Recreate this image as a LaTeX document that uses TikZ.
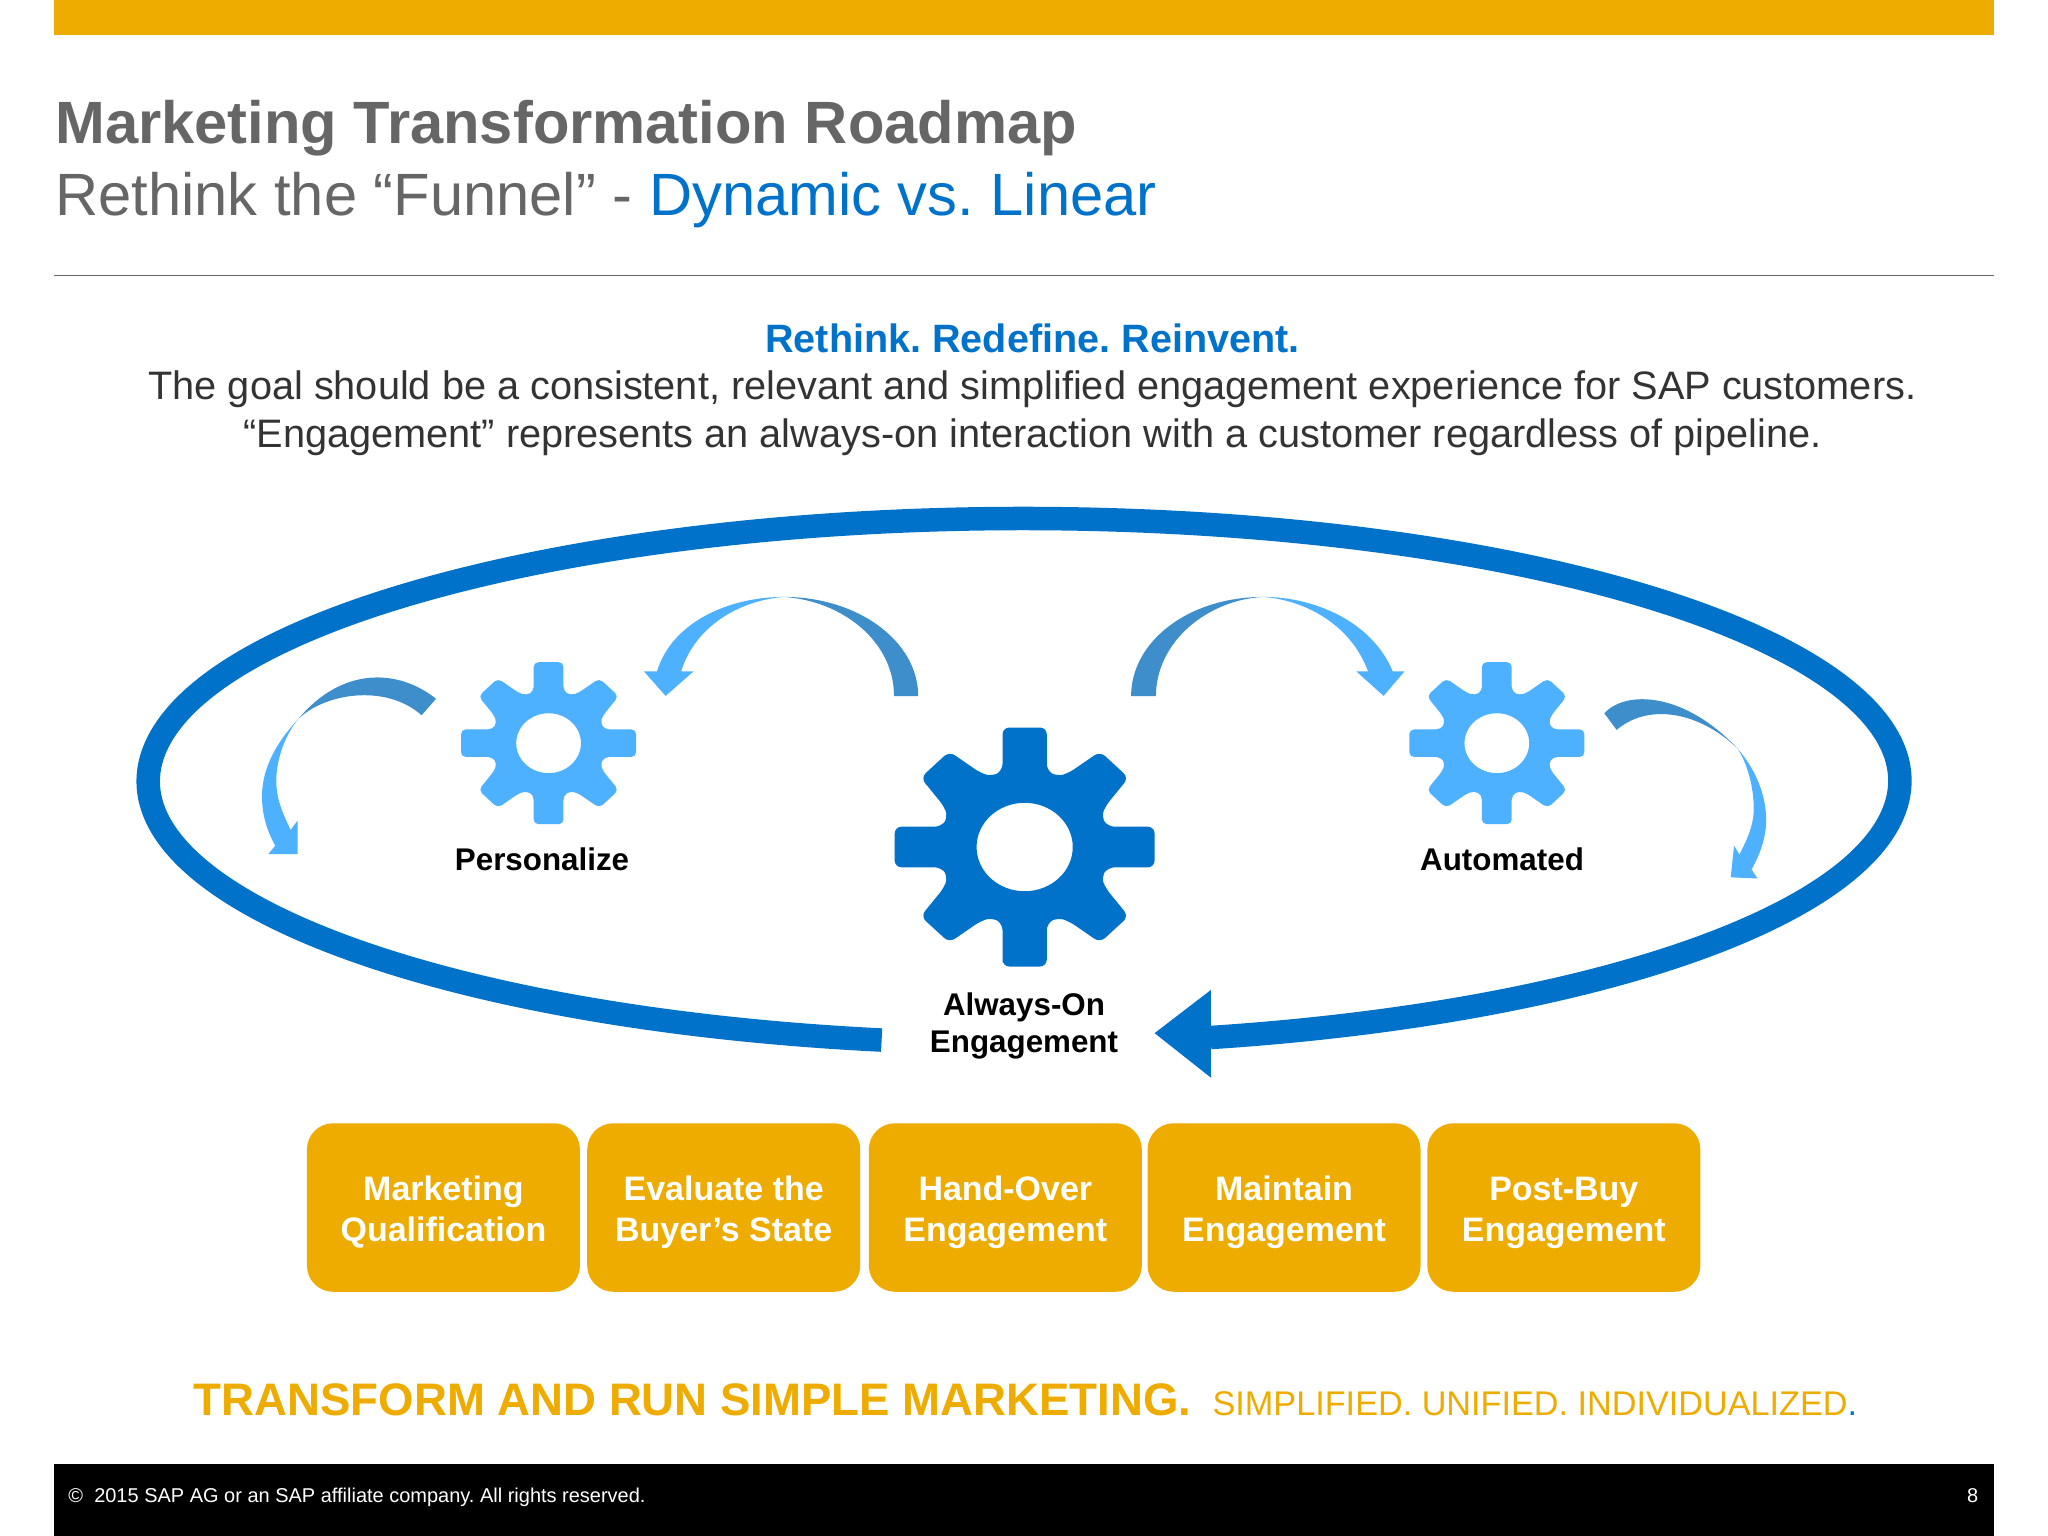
\documentclass[tikz,border=0pt]{standalone}
\usepackage{fontspec}
\setmainfont{Liberation Sans}
\usetikzlibrary{positioning}
\definecolor{sapgold}{HTML}{EEAC00}
\definecolor{sapblue}{HTML}{0072CA}
\definecolor{gearlight}{HTML}{4DB1FF}
\definecolor{taildark}{HTML}{3E8ECC}
\definecolor{titlegrey}{HTML}{666666}
\definecolor{bodygrey}{HTML}{333333}
\frenchspacing
\tikzset{
  stagebox/.style={fill=sapgold,rounded corners=10pt,minimum width=104.5pt,minimum height=64.5pt,inner sep=0pt,
    text=white,align=center,text height=29pt,text depth=3pt,font=\fontsize{13}{15.6}\selectfont\bfseries},
  gearlabel/.style={align=center,font=\fontsize{12}{14}\selectfont\bfseries},
  bodyline/.style={anchor=base,text=bodygrey,font=\fontsize{15.2}{18}\selectfont},
  ringline/.style={draw=sapblue,line width=9pt}
}
% quarter of a gear outline, unit radius
\newcommand{\gearquad}[1]{
  -- ([rotate=#1]0.17,1) -- ([rotate=#1]0.17,0.64) -- ([rotate=#1]0.25,0.59) -- ([rotate=#1]0.34,0.62)
  -- ([rotate=#1]0.58,0.80) -- ([rotate=#1]0.80,0.58) -- ([rotate=#1]0.62,0.34) -- ([rotate=#1]0.59,0.25)
  -- ([rotate=#1]0.64,0.17) -- ([rotate=#1]1,0.17)}
\newcommand{\gearshape}[5]{
\begin{scope}[shift={(#1,#2)},xscale=#3,yscale=#4]
\fill[even odd rule,#5] (-0.17,1) \gearquad{0} \gearquad{90} \gearquad{180} \gearquad{270} -- cycle
  (0,0) ellipse [x radius=0.37,y radius=0.37];
\end{scope}}
\begin{document}
\begin{tikzpicture}[x=0.5pt,y=-0.5pt]
\useasboundingbox (0,0) rectangle (1568,1176);
\fill[white] (0,0) rectangle (1568,1176);
% bars and rule
\fill[sapgold] (41,0) rectangle (1527,27);
\fill[black] (41,1121) rectangle (1527,1176);
\draw[titlegrey,line width=0.6pt] (41,211) -- (1527,211);
% header
\node (title) [anchor=base west,inner sep=0pt,text=titlegrey,font=\fontsize{22.85}{27}\selectfont\bfseries] at (42,110) {Marketing Transformation Roadmap};
\node (subtitle) [anchor=base west,inner sep=0pt,text=titlegrey,font=\fontsize{22.85}{27}\selectfont] at (42,165) {Rethink the “Funnel” - \textcolor{sapblue}{Dynamic vs. Linear}};
\node (slogan) [bodyline,text=sapblue,font=\fontsize{15.15}{18}\selectfont\bfseries] at (790.5,270) {Rethink. Redefine. Reinvent.};
\node (goal) [bodyline] at (790.5,306) {The goal should be a consistent, relevant and simplified engagement experience for SAP customers.};
\node (always) [bodyline] at (790.5,343) {“Engagement” represents an always-on interaction with a customer regardless of pipeline.};
% big ring
\coordinate (ringstart) at (675,796.3);
\draw[ringline] (ringstart) arc [start angle=99.36,end angle=437.7,x radius=670.5,y radius=201] coordinate (ringend);
\fill[sapblue] (884,791) -- (927,758) -- (927,825) -- cycle;
% gears
\gearshape{420}{569}{67}{62}{gearlight,rounded corners=1.8pt}
\gearshape{1146}{569}{67}{62}{gearlight,rounded corners=1.8pt}
\gearshape{784.5}{648.5}{99.5}{91.5}{sapblue,rounded corners=2.6pt}
\node (personalize) [gearlabel] at (415,658) {Personalize};
\node (automated) [gearlabel] at (1150,658) {Automated};
\node (engagement) [gearlabel] at (784,785.5) {Always-On\\Engagement};
% far left arrow
\fill[taildark] (333.8,535) .. controls (305,512) and (262,510) .. (228.3,550.6) .. controls (248,531) and (295,523) .. (322.8,547.6) -- cycle;
\fill[gearlight] (228.3,550.6) .. controls (210,570) and (200.6,590) .. (200.6,609.7) .. controls (200.6,625) and (205,637) .. (210.7,647.5)
  -- (205.4,654) -- (227.8,654) -- (227.8,628.4) -- (222.5,635.4) .. controls (215,620) and (211.5,610) .. (211.5,597.6) .. controls (211.5,582) and (218,563) .. (228.3,550.6) -- cycle;
% top left arrow
\fill[taildark] (703,533) .. controls (703,491) and (657,457) .. (600,457) .. controls (645,460) and (684.5,491) .. (684.5,533) -- cycle;
\fill[gearlight] (600,457) .. controls (560,457) and (515,475) .. (503,514) -- (493,514) -- (509.6,532.8) -- (531,514) -- (521.5,514) .. controls (532,480) and (565,460) .. (600,457) -- cycle;
% top right arrow
\fill[taildark] (866,533) .. controls (866,491) and (910,457) .. (967.4,457) .. controls (925,459) and (885,491) .. (885,533) -- cycle;
\fill[gearlight] (967.4,457) .. controls (1005,457) and (1050,475) .. (1066.3,514) -- (1075.3,514) -- (1059.3,532.8) -- (1038.4,514) -- (1047.4,514) .. controls (1035,480) and (1002,460) .. (967.4,457) -- cycle;
% far right arrow
\fill[taildark] (1228.3,546.1) .. controls (1245,528) and (1290,530) .. (1330.4,573.3) .. controls (1305,548) and (1265,536) .. (1237.7,558.8) -- cycle;
\fill[gearlight] (1330.4,573.3) .. controls (1345,590) and (1352.2,610) .. (1352.2,627.8) .. controls (1352.2,642) and (1347,655) .. (1341,665.7)
  -- (1345.6,672.6) -- (1325.1,671.7) -- (1327.6,647.5) -- (1331.7,654.2) .. controls (1338,642) and (1342.7,632) .. (1342.7,618.7) .. controls (1342.7,603) and (1338,585) .. (1330.4,573.3) -- cycle;
% stages
\node (qualify) [stagebox] at (339.5,924.5) {Marketing\\Qualification};
\node (evaluate) [stagebox,right=2.4pt of qualify] {Evaluate the\\Buyer’s State};
\node (handover) [stagebox,right=2.9pt of evaluate] {Hand-Over\\Engagement};
\node (maintain) [stagebox,right=1.8pt of handover] {Maintain\\Engagement};
\node (postbuy) [stagebox,right=2.2pt of maintain] {Post-Buy\\Engagement};
% tag line
\node (transform) [anchor=base west,inner sep=0pt,text=sapgold,font=\fontsize{17.45}{21}\selectfont\bfseries] at (148,1084) {TRANSFORM AND RUN SIMPLE MARKETING.};
\node (simplified) [anchor=base west,inner sep=0pt,text=sapgold,font=\fontsize{13.1}{16}\selectfont] at (928,1084) {SIMPLIFIED. UNIFIED. INDIVIDUALIZED\textcolor{sapblue}{.}};
% footer
\node (copyright) [anchor=base west,inner sep=0pt,text=white,font=\fontsize{7.65}{9}\selectfont] at (52,1150) {©\ \ 2015 SAP AG or an SAP affiliate company. All rights reserved.};
\node (pagenum) [anchor=base east,inner sep=0pt,text=white,font=\fontsize{7.65}{9}\selectfont] at (1515,1150) {8};
\end{tikzpicture}
\end{document}
